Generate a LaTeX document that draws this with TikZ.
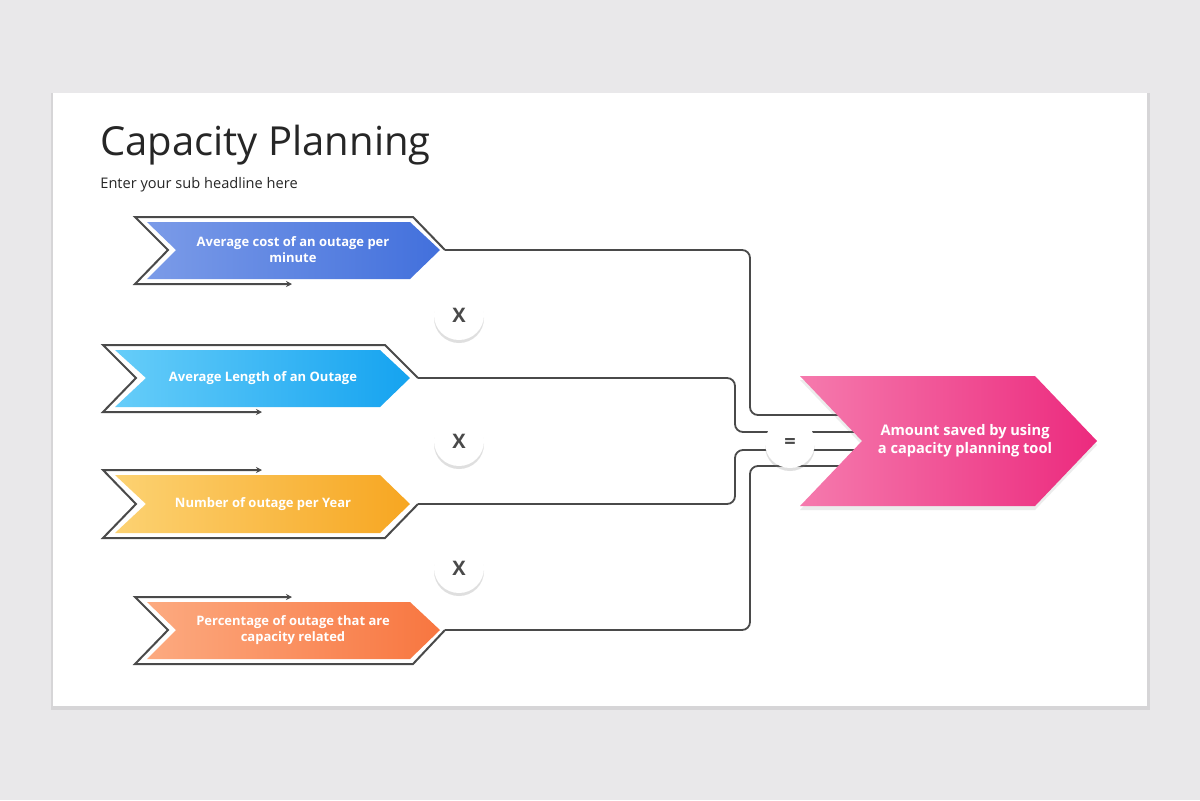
\documentclass[tikz,border=0pt]{standalone}
\usepackage{fontspec}
\setmainfont{Open Sans}
\usetikzlibrary{shadows,arrows.meta}
\definecolor{bg}{HTML}{E9E8EA}
\definecolor{ln}{HTML}{4A4A4A}
\definecolor{bA}{HTML}{7B9BE8}\definecolor{bB}{HTML}{4270DC}
\definecolor{cA}{HTML}{66CDF9}\definecolor{cB}{HTML}{15A3F0}
\definecolor{yA}{HTML}{FCD272}\definecolor{yB}{HTML}{F7A621}
\definecolor{oA}{HTML}{FCAA80}\definecolor{oB}{HTML}{F87640}
\definecolor{pA}{HTML}{F57AAD}\definecolor{pB}{HTML}{EC2A7E}
\tikzset{
 outl/.style={draw=ln,line width=1pt},
 conn/.style={draw=ln,line width=0.9pt,rounded corners=4},
 arr/.style={draw=ln,line width=0.8pt,-{Stealth[length=3pt,width=3pt]}},
 lbl/.style={text=white,font=\bfseries\fontsize{6.5}{8}\selectfont,align=center},
 op/.style={circle,fill=white,minimum size=25pt,inner sep=0pt,font=\bfseries\fontsize{10}{10}\selectfont,text=ln,drop shadow={shadow xshift=0pt,shadow yshift=-1.5pt,opacity=0.25}}
}
\begin{document}
\begin{tikzpicture}[x=0.5pt,y=-0.5pt]
\fill[bg] (0,0) rectangle (1200,800);
\fill[black,opacity=0.08] (51,93) rectangle (1150,710);
\fill[white] (53,93) rectangle (1147,706);
\node[anchor=base west,inner sep=0,font=\fontsize{20}{22}\selectfont,text=black!85] (t) at (100,155) {Capacity Planning};
\node[anchor=base west,inner sep=0,font=\fontsize{7.3}{9}\selectfont,text=black!85] (s) at (100,188) {Enter your sub headline here};
% arrow 1
\shade[left color=bA,right color=bB] (147,222)--(410,222)--(440,250)--(410,279)--(147,279)--(176,250)--cycle;
\draw[outl] (445,250)--(413,217)--(135,217)--(168,250)--(135,284)--(290,284);
\coordinate (a1) at (445,250);
\draw[arr] (270,284)--(292,284);
\node[lbl] (l1) at (293,250) {Average cost of an outage per\\minute};
% arrow 2
\shade[left color=cA,right color=cB] (115,350)--(380,350)--(410,378)--(380,407)--(115,407)--(146,378)--cycle;
\draw[outl] (418,378)--(385,345)--(103,345)--(136,378)--(103,412)--(260,412);
\coordinate (a2) at (418,378);
\draw[arr] (240,412)--(262,412);
\node[lbl] (l2) at (263,378) {Average  Length of an Outage};
% arrow 3
\shade[left color=yA,right color=yB] (115,475)--(380,475)--(410,504)--(380,533)--(115,533)--(146,504)--cycle;
\draw[outl] (418,504)--(385,538)--(103,538)--(136,504)--(103,470)--(260,470);
\coordinate (a3) at (418,504);
\draw[arr] (240,470)--(262,470);
\node[lbl] (l3) at (263,504) {Number of outage per Year};
% arrow 4
\shade[left color=oA,right color=oB] (147,602)--(410,602)--(440,630)--(410,659)--(147,659)--(176,630)--cycle;
\draw[outl] (445,630)--(413,664)--(135,664)--(168,630)--(135,597)--(290,597);
\coordinate (a4) at (445,630);
\draw[arr] (270,597)--(292,597);
\node[lbl] (l4) at (293,630) {Percentage  of outage that are\\capacity related};
% connectors
\coordinate (e1) at (865,415);
\coordinate (e2) at (865,432);
\coordinate (e3) at (865,450);
\coordinate (e4) at (865,466);
\draw[conn] (a1)--(750,250)--(750,415)--(e1);
\draw[conn] (a2)--(735,378)--(735,432)--(e2);
\draw[conn] (a3)--(735,504)--(735,450)--(e3);
\draw[conn] (a4)--(750,630)--(750,466)--(e4);
% result arrow
\shade[left color=pA,right color=pB,drop shadow={shadow xshift=0pt,shadow yshift=-2pt,opacity=0.15}] (800,376)--(1035,376)--(1097,441)--(1035,506)--(800,506)--(862,441)--cycle;
\node[lbl,font=\bfseries\fontsize{7.3}{9}\selectfont] (r) at (965,441) {Amount saved by using\\a capacity planning tool};
% operators
\node[op] (x1) at (459,315) {X};
\node[op] (x2) at (459,441) {X};
\node[op] (x3) at (459,568) {X};
\node[op] (eq) at (790,443) {=};
\end{tikzpicture}
\end{document}
